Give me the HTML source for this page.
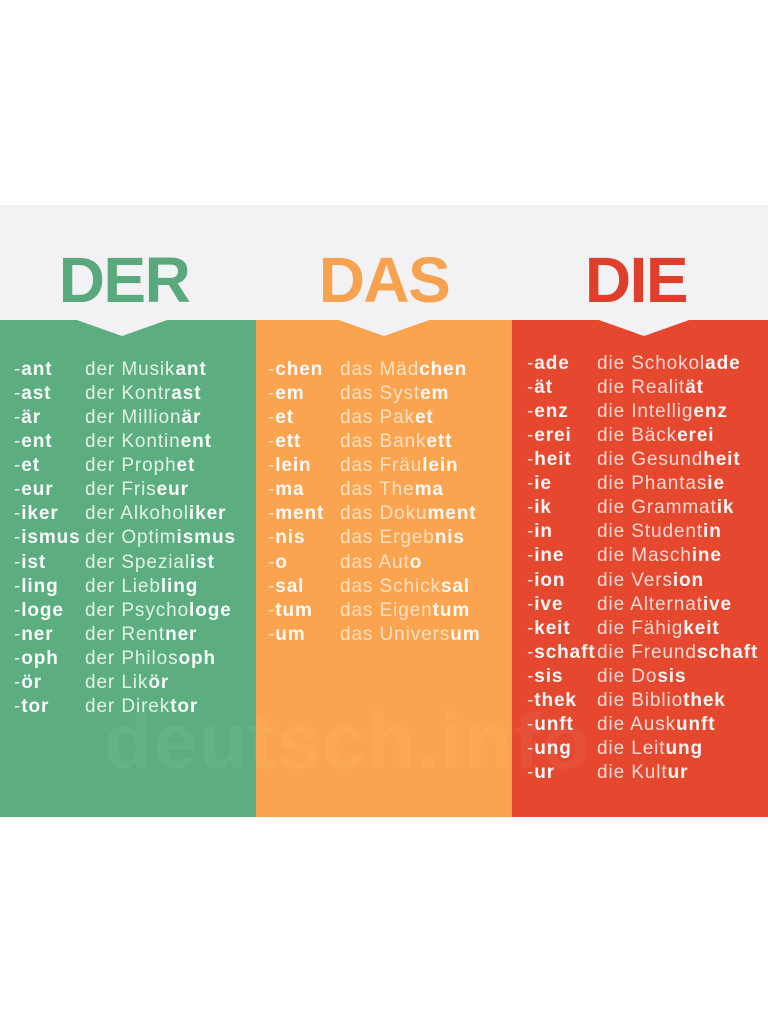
<!DOCTYPE html>
<html><head><meta charset="utf-8">
<style>
html,body{margin:0;padding:0;background:#fff;}
#root{position:relative;width:768px;height:1024px;overflow:hidden;background:#fff;font-family:"Liberation Sans","DejaVu Sans",sans-serif;}
.band{position:absolute;left:0;top:205px;width:768px;height:115px;background:#f2f2f4;}
.col{position:absolute;top:320px;height:497px;width:256px;}
.head{position:absolute;top:243px;font-weight:bold;font-size:64px;letter-spacing:-1.5px;text-align:center;width:256px;}
.notch{position:absolute;top:319px;width:0;height:0;border-left:48px solid transparent;border-right:48px solid transparent;border-top:17px solid #f2f2f4;}
.row{position:absolute;font-size:19px;letter-spacing:0.9px;white-space:nowrap;line-height:24px;}
.suf{color:rgba(255,255,255,0.95);}
.wm{position:absolute;left:104px;top:696px;font-size:78px;font-weight:bold;color:rgba(255,255,255,0.05);letter-spacing:2px;white-space:nowrap;}
</style></head>
<body>
<div id="root">
  <div class="band"></div>
  <div class="col" style="left:0;background:#5cae80"></div>
  <div class="col" style="left:256px;background:#fba44f"></div>
  <div class="col" style="left:512px;background:#e5472f"></div>
  <div class="notch" style="left:74px"></div>
  <div class="notch" style="left:336px"></div>
  <div class="notch" style="left:596px"></div>
  <div class="head" style="left:-4px;color:#5aa97c">DER</div>
  <div class="head" style="left:256px;color:#f7a24f">DAS</div>
  <div class="head" style="left:508px;color:#dd3f2c">DIE</div>
  <div class="wm">deutsch.info</div>
</div>
<script>
const derSuffixes=["ant","ast","är","ent","et","eur","iker","ismus","ist","ling","loge","ner","oph","ör","tor"];
const derWords=["Musikant","Kontrast","Millionär","Kontinent","Prophet","Friseur","Alkoholiker","Optimismus","Spezialist","Liebling","Psychologe","Rentner","Philosoph","Likör","Direktor"];
const dasSuffixes=["chen","em","et","ett","lein","ma","ment","nis","o","sal","tum","um"];
const dasWords=["Mädchen","System","Paket","Bankett","Fräulein","Thema","Dokument","Ergebnis","Auto","Schicksal","Eigentum","Universum"];
const dieSuffixes=["ade","ät","enz","erei","heit","ie","ik","in","ine","ion","ive","keit","schaft","sis","thek","unft","ung","ur"];
const dieWords=["Schokolade","Realität","Intelligenz","Bäckerei","Gesundheit","Phantasie","Grammatik","Studentin","Maschine","Version","Alternative","Fähigkeit","Freundschaft","Dosis","Bibliothek","Auskunft","Leitung","Kultur"];

const root=document.getElementById('root');
function esc(s){return s.replace(/&/g,'&amp;').replace(/</g,'&lt;');}
function build(article,suffixes,words,sx,wx,top,step,color,name){
  suffixes.forEach((s,i)=>{
    const y=top+i*step;
    const a=document.createElement('div');
    a.className='row';
    
    
    a.style.left=sx+'px';a.style.top=y+'px';a.style.color=color;
    a.innerHTML='-<b class="suf">'+esc(s)+'</b>';
    root.appendChild(a);
    const w=words[i];
    let stem=w, end='';
    if(w.endsWith(s)){stem=w.slice(0,w.length-s.length);end=s;}
    const b=document.createElement('div');
    b.className='row';
    
    
    b.style.left=wx+'px';b.style.top=y+'px';b.style.color=color;
    b.innerHTML=article+' '+esc(stem)+'<b class="suf">'+esc(end)+'</b>';
    root.appendChild(b);
  });
}
build('der',derSuffixes,derWords,14,85,358,24.07,'#e2f2e8','der');
build('das',dasSuffixes,dasWords,268,340,358,24.07,'#fde0c2','das');
build('die',dieSuffixes,dieWords,527,597,352,24.06,'#fbd9d2','die');
</script>
</body></html>
